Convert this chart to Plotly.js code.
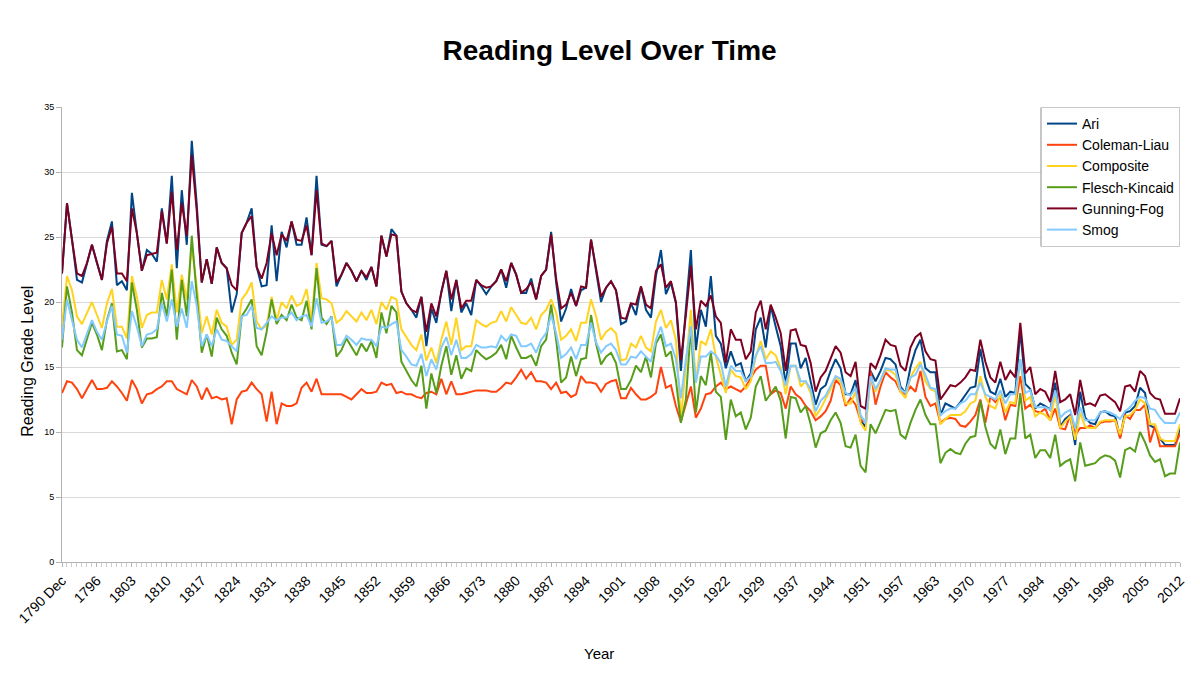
<!DOCTYPE html>
<html>
<head>
<meta charset="utf-8">
<script src="https://cdn.plot.ly/plotly-3.0.1.min.js"></script>
<style>
  html, body { margin: 0; padding: 0; background: #ffffff; }
  #chart { width: 1200px; height: 676px; }
</style>
</head>
<body>
<div id="chart"></div>
<script>
// Reading grade level of each State of the Union address, 1790 Dec .. 2012
const tickLabels = ["1790 Dec", "1796", "1803", "1810", "1817", "1824", "1831", "1838", "1845",
  "1852", "1859", "1866", "1873", "1880", "1887", "1894", "1901", "1908", "1915", "1922",
  "1929", "1937", "1944", "1951", "1957", "1963", "1970", "1977", "1984", "1991", "1998",
  "2005", "2012"];

const seriesNames = ["Ari", "Coleman-Liau", "Composite", "Flesch-Kincaid", "Gunning-Fog", "Smog"];

const ari = [
  22.2, 27.6, 24.8, 21.7, 21.5, 23.0, 24.4, 23.0, 21.7, 24.7, 26.2, 21.3, 21.6, 20.9, 28.4, 25.3,
  22.4, 24.0, 23.7, 23.1, 27.2, 24.5, 29.7, 22.6, 28.6, 24.4, 32.4, 27.5, 21.5, 23.3, 21.4, 24.2,
  23.0, 22.6, 19.2, 20.6, 25.3, 26.1, 27.2, 22.7, 21.2, 21.3, 25.9, 21.6, 25.4, 24.2, 26.2, 24.4,
  24.4, 26.5, 23.6, 29.7, 24.4, 24.3, 24.7, 21.2, 22.1, 23.0, 22.4, 21.6, 22.4, 21.7, 22.7, 21.2,
  25.1, 23.5, 25.6, 25.1, 20.8, 19.9, 19.4, 18.8, 20.4, 16.6, 19.5, 18.4, 20.8, 22.4, 19.3, 21.7,
  19.2, 19.9, 19.0, 21.7, 21.2, 20.6, 21.2, 21.6, 22.5, 21.1, 23.0, 22.1, 20.7, 20.7, 21.8, 20.2,
  22.0, 22.5, 25.4, 21.5, 18.5, 19.5, 21.0, 19.7, 20.9, 21.1, 24.8, 22.5, 20.0, 21.1, 21.6, 20.9,
  18.3, 18.5, 19.9, 19.0, 21.2, 19.4, 18.8, 22.0, 24.0, 20.6, 21.5, 19.9, 14.7, 19.5, 24.0, 16.3,
  19.4, 18.1, 22.0, 17.4, 16.8, 14.9, 16.2, 15.1, 15.3, 13.9, 14.5, 17.9, 18.8, 16.5, 19.7, 18.1,
  16.6, 13.6, 16.8, 16.8, 14.9, 15.7, 14.0, 12.1, 13.3, 13.6, 14.7, 15.6, 14.9, 12.9, 12.9, 14.0,
  10.9, 10.4, 14.7, 13.9, 14.7, 15.7, 15.6, 15.2, 13.5, 13.0, 15.0, 16.3, 17.1, 14.9, 14.6, 14.6,
  11.3, 12.2, 12.0, 11.8, 12.3, 12.9, 13.4, 13.5, 16.4, 14.2, 13.1, 12.9, 14.1, 12.7, 13.1, 13.0,
  17.8, 13.7, 13.3, 11.8, 12.2, 12.0, 11.7, 13.8, 10.4, 11.0, 11.3, 9.0, 13.1, 11.1, 10.7, 10.6,
  11.5, 11.6, 11.3, 11.2, 9.6, 11.5, 11.6, 12.0, 13.4, 13.0, 10.5, 10.3, 9.5, 9.0, 9.0, 9.0, 10.3
];

const colemanLiau = [
  13.0, 13.9, 13.8, 13.3, 12.6, 13.3, 14.0, 13.3, 13.3, 13.4, 13.9, 13.5, 13.0, 12.4, 14.0, 13.3,
  12.2, 12.9, 13.0, 13.3, 13.5, 13.9, 13.9, 13.3, 13.1, 12.9, 14.0, 13.5, 12.5, 13.4, 12.6, 12.7,
  12.5, 12.6, 10.6, 12.5, 13.1, 13.2, 13.8, 13.3, 12.9, 10.8, 13.1, 10.6, 12.2, 12.0, 12.0, 12.2,
  13.4, 13.8, 13.1, 14.1, 12.9, 12.9, 12.9, 12.9, 12.9, 12.7, 12.5, 12.9, 13.3, 13.0, 13.0, 13.1,
  13.8, 13.6, 13.7, 13.0, 13.1, 12.9, 12.9, 12.7, 12.6, 13.0, 13.1, 12.9, 14.1, 12.9, 13.9, 12.9,
  12.9, 13.0, 13.1, 13.2, 13.2, 13.2, 13.1, 13.1, 13.4, 13.8, 13.7, 14.2, 14.8, 14.1, 14.6, 13.9,
  13.9, 13.8, 13.3, 13.8, 13.0, 13.1, 12.7, 12.9, 14.3, 13.8, 13.8, 13.7, 13.1, 13.7, 13.9, 14.0,
  12.6, 12.6, 13.4, 12.9, 12.5, 12.5, 12.7, 13.0, 15.0, 13.4, 13.6, 12.0, 10.8, 12.2, 13.5, 11.1,
  11.8, 12.9, 13.0, 13.5, 13.8, 13.3, 13.5, 13.3, 13.1, 13.5, 14.1, 14.8, 15.1, 15.1, 12.9, 13.2,
  13.0, 11.8, 13.5, 12.9, 12.6, 12.0, 11.6, 10.9, 11.2, 11.6, 12.4, 14.0, 13.6, 12.0, 12.6, 12.1,
  10.9, 10.8, 14.7, 12.1, 13.5, 14.6, 14.2, 13.9, 13.1, 12.9, 13.5, 13.1, 14.7, 12.7, 12.0, 12.2,
  10.7, 11.0, 11.1, 11.0, 10.5, 10.4, 10.8, 11.3, 12.5, 10.7, 12.7, 12.3, 12.7, 10.9, 12.1, 12.0,
  14.3, 11.8, 12.1, 11.6, 11.5, 11.8, 10.9, 11.8, 10.3, 10.2, 11.3, 9.8, 10.3, 10.3, 10.5, 10.3,
  10.7, 10.8, 10.8, 10.9, 9.5, 11.3, 11.0, 11.7, 11.7, 12.1, 9.2, 10.5, 8.9, 8.9, 8.9, 8.9, 9.9
];

const composite = [
  18.1, 22.0, 20.9, 18.9, 18.3, 19.2, 20.0, 19.0, 18.0, 19.9, 21.0, 18.1, 18.1, 17.2, 22.0, 20.4,
  18.0, 19.0, 19.2, 19.2, 21.7, 20.2, 22.9, 19.2, 22.1, 20.2, 24.3, 21.2, 17.6, 18.9, 17.5, 19.4,
  18.4, 18.1, 16.7, 17.1, 20.2, 20.7, 21.5, 18.5, 17.9, 18.2, 20.4, 18.6, 20.0, 19.5, 20.5, 19.7,
  19.9, 21.0, 18.6, 23.0, 20.3, 20.2, 19.9, 18.4, 18.7, 19.3, 18.9, 18.5, 19.2, 18.6, 19.4, 18.3,
  20.0, 19.4, 20.4, 20.2, 17.9, 17.3, 16.7, 16.3, 17.5, 15.5, 16.5, 15.3, 17.1, 18.5, 16.7, 18.8,
  16.3, 16.6, 16.6, 18.6, 18.3, 18.1, 18.4, 18.5, 19.3, 18.5, 19.6, 19.0, 18.4, 18.3, 18.8, 17.9,
  19.0, 19.4, 20.2, 19.2, 17.1, 17.4, 17.9, 17.0, 18.4, 18.4, 20.2, 18.9, 17.1, 17.7, 18.0, 17.6,
  15.5, 15.6, 16.8, 16.5, 17.4, 16.5, 16.2, 18.5, 19.4, 18.0, 18.6, 17.1, 11.0, 15.1, 19.4, 13.8,
  17.0, 16.7, 17.9, 15.8, 14.5, 13.0, 14.8, 14.3, 14.2, 13.3, 13.9, 15.8, 17.0, 15.6, 16.2, 15.9,
  14.9, 12.9, 15.1, 15.1, 13.5, 13.9, 13.0, 11.2, 11.8, 12.5, 13.3, 14.3, 13.8, 12.2, 12.2, 13.1,
  10.7, 10.1, 14.2, 13.1, 13.9, 14.8, 14.7, 14.4, 13.1, 12.6, 14.2, 14.9, 15.4, 13.9, 13.3, 13.1,
  10.6, 11.0, 11.3, 11.3, 11.3, 11.6, 12.2, 12.4, 14.3, 12.7, 12.0, 11.8, 12.9, 11.5, 12.3, 12.2,
  15.6, 12.4, 12.7, 11.2, 11.5, 11.3, 10.9, 12.9, 10.3, 10.8, 11.2, 9.4, 11.5, 10.4, 10.3, 10.3,
  10.8, 10.9, 10.9, 10.9, 9.8, 11.2, 11.3, 11.7, 12.5, 12.2, 10.6, 10.6, 9.5, 9.3, 9.3, 9.3, 10.6
];

const fleschKincaid = [
  16.5, 21.2, 19.2, 16.3, 15.9, 17.2, 18.4, 17.5, 16.3, 18.6, 19.9, 16.2, 16.3, 15.6, 21.5, 19.4,
  16.5, 17.2, 17.2, 17.3, 20.7, 18.9, 22.5, 17.1, 21.7, 18.9, 25.1, 20.5, 16.1, 17.5, 15.8, 18.8,
  17.9, 17.4, 16.1, 15.2, 18.9, 19.5, 20.2, 16.6, 15.9, 17.7, 20.2, 18.3, 19.0, 18.6, 19.8, 18.8,
  18.6, 20.1, 17.9, 22.6, 18.8, 18.3, 18.9, 15.8, 16.3, 17.2, 16.6, 15.9, 16.8, 16.2, 17.0, 15.7,
  19.2, 17.6, 19.7, 19.2, 15.4, 14.7, 14.0, 13.5, 15.1, 11.8, 14.5, 13.0, 15.1, 16.6, 14.4, 15.9,
  14.1, 14.9, 14.7, 16.3, 15.9, 15.6, 15.8, 16.1, 16.7, 15.6, 17.4, 16.5, 15.7, 15.7, 15.9, 15.1,
  16.6, 17.1, 19.8, 17.1, 13.8, 14.2, 15.8, 14.3, 15.6, 15.7, 19.0, 16.8, 15.2, 15.8, 16.1, 15.3,
  13.3, 13.3, 14.0, 15.1, 14.6, 15.8, 14.2, 16.8, 17.5, 15.8, 16.2, 14.0, 10.7, 12.5, 18.1, 11.5,
  14.3, 13.6, 16.1, 13.1, 12.7, 9.4, 12.5, 11.2, 11.5, 10.2, 11.1, 13.5, 14.3, 12.4, 13.0, 13.5,
  12.4, 9.5, 12.7, 12.6, 11.5, 12.0, 10.6, 8.8, 9.9, 10.1, 10.9, 11.5, 10.7, 8.9, 8.8, 9.8,
  7.4, 6.9, 10.6, 9.9, 10.8, 11.7, 11.6, 11.7, 9.8, 9.5, 10.7, 11.7, 12.5, 11.3, 10.6, 10.6,
  7.6, 8.4, 8.7, 8.4, 8.3, 9.1, 9.6, 9.7, 12.4, 10.4, 9.1, 8.7, 10.2, 8.3, 9.5, 9.5,
  13.0, 9.5, 9.8, 8.0, 8.6, 8.6, 8.0, 9.8, 7.4, 7.7, 7.9, 6.2, 9.2, 7.4, 7.5, 7.6,
  8.0, 8.2, 8.1, 7.8, 6.5, 8.6, 8.8, 8.5, 10.0, 9.2, 8.2, 7.7, 7.9, 6.6, 6.8, 6.8, 9.2
];

const gunningFog = [
  22.2, 27.6, 24.8, 22.2, 22.0, 23.0, 24.4, 23.0, 21.7, 24.5, 25.8, 22.2, 22.2, 21.6, 27.2, 25.3,
  22.4, 23.6, 23.7, 23.8, 27.0, 24.5, 28.5, 24.0, 27.6, 25.1, 31.3, 27.0, 21.5, 23.3, 21.4, 24.2,
  23.0, 22.6, 21.3, 20.9, 25.3, 26.1, 26.6, 22.7, 21.8, 23.0, 25.3, 23.6, 25.2, 24.7, 26.2, 24.8,
  24.7, 25.9, 23.6, 28.6, 24.5, 24.3, 24.7, 21.5, 22.1, 23.0, 22.4, 21.6, 22.4, 21.9, 22.7, 21.2,
  25.1, 23.5, 25.2, 25.1, 20.8, 19.9, 19.4, 19.2, 20.4, 17.7, 19.9, 18.9, 20.7, 22.4, 20.2, 21.7,
  19.5, 20.1, 20.1, 21.7, 21.3, 21.1, 21.2, 21.6, 22.5, 21.6, 23.0, 22.1, 20.7, 21.0, 21.5, 20.2,
  22.0, 22.5, 25.2, 21.8, 19.5, 19.8, 20.7, 19.7, 21.2, 21.1, 24.8, 22.5, 20.4, 21.1, 21.6, 20.9,
  18.8, 18.7, 19.9, 19.8, 21.2, 19.8, 19.5, 22.4, 22.9, 21.1, 21.6, 20.0, 15.5, 19.0, 22.8, 17.9,
  20.1, 19.7, 20.5, 18.9, 18.4, 15.3, 17.9, 17.1, 17.1, 15.6, 16.2, 19.2, 20.1, 17.9, 19.8, 18.8,
  17.6, 14.7, 17.8, 17.9, 16.7, 16.6, 15.3, 13.1, 14.2, 14.7, 15.6, 16.6, 16.1, 14.6, 14.3, 15.4,
  12.0, 11.8, 15.3, 14.9, 15.9, 17.1, 16.7, 16.6, 15.1, 14.7, 16.5, 17.3, 17.6, 16.2, 15.6, 15.5,
  12.5, 13.1, 13.6, 13.5, 13.8, 14.2, 14.8, 14.7, 17.1, 15.4, 14.2, 13.8, 15.4, 14.0, 14.7, 14.2,
  18.4, 14.5, 15.0, 12.9, 13.3, 13.1, 12.3, 14.7, 12.3, 12.5, 12.9, 11.3, 14.0, 12.1, 12.2, 12.0,
  12.8, 12.9, 12.6, 12.3, 11.6, 13.5, 13.6, 13.1, 14.7, 14.3, 13.0, 12.6, 12.5, 11.4, 11.4, 11.4, 12.6
];

const smog = [
  17.1, 20.2, 18.6, 17.1, 16.5, 17.6, 18.6, 17.7, 17.1, 18.5, 19.7, 17.5, 17.4, 16.1, 19.3, 18.1,
  16.6, 17.5, 17.6, 17.9, 19.9, 18.5, 20.2, 18.1, 19.5, 18.0, 21.6, 19.7, 16.6, 17.5, 16.6, 17.9,
  17.1, 17.0, 16.6, 16.2, 18.9, 19.0, 19.7, 18.0, 17.9, 18.4, 18.9, 18.6, 18.8, 18.8, 19.2, 18.6,
  18.9, 19.0, 18.1, 20.3, 18.4, 18.5, 18.8, 16.7, 16.7, 17.4, 17.1, 16.7, 17.2, 17.1, 17.1, 16.6,
  18.1, 18.0, 18.3, 18.5, 16.3, 15.8, 15.2, 15.1, 16.0, 14.3, 15.6, 14.8, 16.5, 17.3, 15.9, 17.1,
  15.7, 15.7, 16.0, 16.7, 16.5, 16.5, 16.6, 16.5, 17.4, 17.0, 17.5, 17.4, 16.6, 16.6, 16.8, 16.1,
  17.1, 17.6, 19.0, 17.6, 15.7, 16.0, 16.5, 15.6, 16.7, 16.7, 18.4, 16.9, 16.1, 16.6, 16.8, 16.3,
  15.2, 15.2, 15.8, 15.7, 16.2, 15.8, 15.4, 17.1, 18.1, 16.6, 16.8, 15.6, 12.6, 15.6, 18.1, 13.8,
  15.8, 15.8, 16.2, 15.9, 15.3, 13.5, 15.1, 14.7, 14.7, 13.9, 14.3, 15.9, 16.6, 15.3, 15.3, 15.4,
  14.7, 13.6, 15.1, 15.1, 13.9, 13.9, 13.3, 11.6, 12.4, 12.8, 13.5, 14.3, 14.1, 13.0, 12.8, 13.4,
  11.3, 10.7, 14.3, 13.3, 14.0, 14.9, 14.8, 14.8, 13.3, 13.0, 14.2, 14.4, 15.2, 14.4, 13.4, 13.3,
  11.3, 11.6, 11.8, 11.8, 12.2, 12.4, 12.9, 12.9, 13.8, 12.9, 12.7, 12.5, 13.2, 12.2, 12.9, 12.9,
  15.6, 13.0, 13.2, 11.9, 11.9, 11.9, 11.7, 13.2, 11.1, 11.5, 11.7, 10.3, 11.9, 10.9, 10.9, 10.9,
  11.5, 11.6, 11.5, 11.3, 11.0, 11.6, 11.9, 12.4, 12.7, 12.6, 11.8, 11.7, 11.1, 10.7, 10.7, 10.7, 11.5
];

const seriesValues = [ari, colemanLiau, composite, fleschKincaid, gunningFog, smog];
const seriesColors = ["#004586", "#ff420e", "#ffd320", "#579d1c", "#7e0021", "#83caff"];

const FONT = "Liberation Sans, Arial, sans-serif";

// one point per address, placed on a running index; every 7th address is labelled
const addressIndex = ari.map((_, i) => i);
const tickPositions = tickLabels.map((_, k) => k * 7);

const traces = seriesNames.map((name, s) => ({
  type: "scatter",
  mode: "lines",
  name: name,
  x: addressIndex,
  y: seriesValues[s],
  line: { color: seriesColors[s], width: 2 },
  hoverinfo: "x+y+name"
}));

const MARGIN = { l: 62, r: 20, t: 107, b: 114, pad: 0 };

const layout = {
  width: 1200,
  height: 676,
  paper_bgcolor: "#ffffff",
  plot_bgcolor: "#ffffff",
  margin: MARGIN,
  font: { family: FONT, color: "#000000" },
  title: {
    text: "Reading Level Over Time",
    font: { family: FONT, size: 28, color: "#000000", weight: 700 },
    xref: "container", x: 0.508, xanchor: "center",
    yref: "container", y: 0.926, yanchor: "middle"
  },
  xaxis: {
    range: [0, addressIndex.length - 1],
    tickmode: "array",
    tickvals: tickPositions,
    ticktext: tickLabels,
    tickangle: -45,
    tickfont: { family: FONT, size: 14, color: "#000000" },
    ticks: "outside", ticklen: 4, tickcolor: "#b3b3b3",
    minor: { dtick: 1, tick0: 0, ticks: "outside", ticklen: 4, tickcolor: "#cccccc", showgrid: false },
    showgrid: false, zeroline: false,
    showline: true, linecolor: "#b3b3b3", linewidth: 1
  },
  yaxis: {
    range: [0, 35],
    dtick: 5,
    tickfont: { family: FONT, size: 9, color: "#000000" },
    ticks: "outside", ticklen: 5, tickcolor: "#b3b3b3",
    gridcolor: "#d9d9d9", gridwidth: 1,
    zeroline: false,
    showline: true, linecolor: "#b3b3b3", linewidth: 1
  },
  legend: {
    x: 1, xanchor: "right", y: 1, yanchor: "top",
    bgcolor: "#ffffff", bordercolor: "#c8c8c8", borderwidth: 1,
    font: { family: FONT, size: 14, color: "#000000" },
    itemwidth: 30, tracegroupgap: 0
  },
  annotations: [
    {
      text: "Year", showarrow: false,
      xref: "paper", x: 0.4803, xanchor: "center",
      yref: "paper", y: -0.2, yanchor: "middle",
      font: { family: FONT, size: 15, color: "#000000" }
    },
    {
      text: "Reading Grade Level", showarrow: false, textangle: -90,
      xref: "paper", x: -0.0304, xanchor: "center",
      yref: "paper", y: 0.44, yanchor: "middle",
      font: { family: FONT, size: 16, color: "#000000" }
    }
  ],
  showlegend: true
};

Plotly.newPlot("chart", traces, layout, { displayModeBar: false, responsive: false }).then(gd => {
  // darker rule along the left side of the legend box
  const bg = gd.querySelector(".legend .bg");
  if (!bg) return;
  const box = bg.getBoundingClientRect();
  const host = gd.getBoundingClientRect();
  const plotW = layout.width - MARGIN.l - MARGIN.r;
  const plotH = layout.height - MARGIN.t - MARGIN.b;
  const left = box.left - host.left;
  const toPaperX = px => (px - MARGIN.l) / plotW;
  const toPaperY = py => 1 - (py - MARGIN.t) / plotH;
  Plotly.relayout(gd, {
    shapes: [{
      type: "line", xref: "paper", yref: "paper",
      x0: toPaperX(left), x1: toPaperX(left),
      y0: toPaperY(box.top - host.top), y1: toPaperY(box.bottom - host.top),
      line: { color: "#8c8c8c", width: 2 }
    }]
  });
});
</script>
</body>
</html>
